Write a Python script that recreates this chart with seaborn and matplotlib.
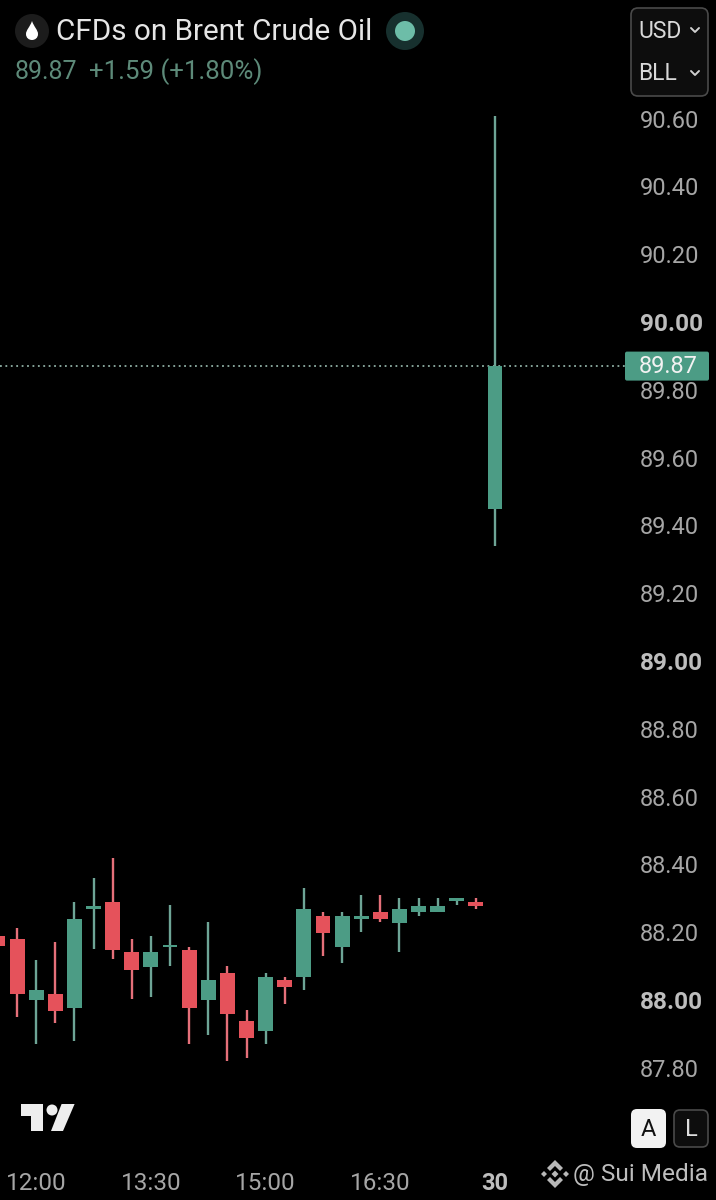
import numpy as np
import pandas as pd
import matplotlib
matplotlib.use('Agg')
import matplotlib.pyplot as plt
import seaborn as sns
from matplotlib.lines import Line2D
from matplotlib.patches import Circle, FancyBboxPatch, PathPatch, Polygon
from matplotlib.path import Path
from matplotlib.transforms import Affine2D

# 15 minute candles
opens = [88.19, 88.179, 87.999, 88.019, 87.977, 88.268, 88.288, 88.141, 88.098, 88.156,
         88.148, 87.999, 88.079, 87.938, 87.909, 88.059, 88.069, 88.248, 88.157, 88.238,
         88.259, 88.228, 88.259, 88.259, 88.292, 88.289, 89.448]
highs = [88.19, 88.212, 88.118, 88.170, 88.288, 88.359, 88.418, 88.179, 88.189, 88.280,
         88.157, 88.229, 88.100, 87.970, 88.080, 88.069, 88.329, 88.259, 88.259, 88.310,
         88.310, 88.300, 88.300, 88.300, 88.300, 88.300, 90.608]
lows = [88.16, 87.951, 87.870, 87.931, 87.879, 88.150, 88.120, 88.002, 88.010, 88.100,
        87.869, 87.898, 87.820, 87.829, 87.870, 87.988, 88.030, 88.130, 88.108, 88.200,
        88.229, 88.141, 88.249, 88.259, 88.280, 88.269, 89.339]
closes = [88.16, 88.018, 88.029, 87.967, 88.240, 88.278, 88.148, 88.088, 88.141, 88.161,
          87.977, 88.059, 87.959, 87.888, 88.069, 88.037, 88.268, 88.199, 88.248, 88.249,
          88.238, 88.268, 88.278, 88.278, 88.300, 88.278, 89.870]

price_ticks = [87.8, 88.0, 88.2, 88.4, 88.6, 88.8, 89.0, 89.2, 89.4, 89.6, 89.8, 90.0, 90.2, 90.4, 90.6]
time_tick_pos = [2, 8, 14, 20, 26]
time_tick_labels = ['12:00', '13:30', '15:00', '16:30', '30']
last_price = 89.87

GREEN = '#4c9c85'
RED = '#e5525b'
GREEN_WICK = '#6ea596'
RED_WICK = '#e5707a'
FONT = 'Roboto'

df = pd.DataFrame({'candle': np.arange(len(opens)), 'open': opens, 'high': highs, 'low': lows, 'close': closes})
df['dir'] = np.where(df['close'] >= df['open'], 'up', 'down')
df['bottom'] = df[['open', 'close']].min(axis=1)
df['size'] = (df['open'] - df['close']).abs()

wicks = df.melt(id_vars=['candle', 'dir'], value_vars=['high', 'low'], value_name='price')

sns.set_theme(style='dark', rc={'axes.facecolor': 'black', 'figure.facecolor': 'black', 'axes.grid': False})
plt.rcParams['font.family'] = [FONT, 'DejaVu Sans']

fig = plt.figure(figsize=(7.16, 12), dpi=100)
ax = fig.add_axes([0, 40 / 1200, 625 / 716, 1060 / 1200])

sns.lineplot(data=wicks, x='candle', y='price', units='candle', estimator=None, hue='dir',
             palette={'up': GREEN_WICK, 'down': RED_WICK}, linewidth=1.7, legend=False, ax=ax,
             solid_capstyle='butt', zorder=2)

for name, color in [('up', GREEN), ('down', RED)]:
    sub = df[df['dir'] == name]
    sns.barplot(x=sub['candle'].values, y=sub['size'].values, bottom=sub['bottom'].values, native_scale=True,
                color=color, saturation=1, width=0.78, errorbar=None, linewidth=0, ax=ax, zorder=3)

ax.axhline(last_price, color='#8fb0a5', linewidth=1.3, linestyle=(0, (1, 2)), zorder=1)

ax.set_xlim(0.105, 32.8)
ax.set_ylim(87.528, 90.655)
ax.set_xlabel('')
ax.set_ylabel('')
ax.yaxis.tick_right()
ax.set_yticks(price_ticks)
ax.set_yticklabels(['%.2f' % p for p in price_ticks])
ax.set_xticks(time_tick_pos)
ax.set_xticklabels(time_tick_labels)
ax.tick_params(axis='y', length=0, pad=10.8, labelsize=17, labelcolor='#a6a6a6')
ax.tick_params(axis='x', length=0, pad=9, labelsize=17.5, labelcolor='#a6a6a6')
for lab, p in zip(ax.get_yticklabels(), price_ticks):
    if abs(p - round(p)) < 1e-6:
        lab.set_fontweight('bold')
        lab.set_color('#bdbdbd')
        lab.set_fontsize(17.6)
ax.get_xticklabels()[-1].set_fontweight('bold')
ax.get_xticklabels()[-1].set_color('#bdbdbd')
ax.get_xticklabels()[-1].set_fontsize(17)
sns.despine(ax=ax, left=True, right=True, top=True, bottom=True)

# everything around the chart placed in image pixels, y going down
px = Affine2D().scale(1, -1).translate(0, 1200)


def label(x, y, s, size, color, ha='left', weight='normal'):
    fig.text(x, y, s, transform=px, fontsize=size, color=color, ha=ha, va='center', fontweight=weight, zorder=6)


def box(x0, y0, x1, y1, r, face, edge='none', lw=0):
    fig.add_artist(FancyBboxPatch((x0, y0), x1 - x0, y1 - y0, boxstyle='round,pad=0,rounding_size=%g' % r,
                                  transform=px, facecolor=face, edgecolor=edge, linewidth=lw, zorder=5))


def disc(x, y, r, face, z=5):
    fig.add_artist(Circle((x, y), r, transform=px, facecolor=face, edgecolor='none', linewidth=0, zorder=z))


def poly(pts, face):
    fig.add_artist(Polygon(pts, closed=True, transform=px, facecolor=face, edgecolor='none', linewidth=0, zorder=6))


def chevron(x, y):
    fig.add_artist(Line2D([x - 4, x, x + 4], [y - 2, y + 2, y - 2], transform=px, color='#d0d0d0', linewidth=1.4, zorder=6))


# price tag on the axis
tag_y = 1200 - ax.transData.transform((0, last_price))[1]
box(625, tag_y - 14.5, 709, tag_y + 14.5, 2, GREEN)
label(698, tag_y + 0.5, '%.2f' % last_price, 17, '#f2f2f2', ha='right')

# header
disc(32, 31, 17, '#1c1c1c')
drop = Path([(32, 21), (34, 27), (38, 30), (38, 34), (38, 38), (35, 40), (32, 40), (29, 40), (26, 38), (26, 34),
             (26, 30), (30, 27), (32, 21)],
            [Path.MOVETO] + [Path.CURVE4] * 12)
fig.add_artist(PathPatch(drop, transform=px, facecolor='white', edgecolor='none', linewidth=0, zorder=6))
label(56, 32.5, 'CFDs on Brent Crude Oil', 21.3, '#e6e6e6')
disc(405, 31, 19, '#17302e')
disc(405, 31, 10, '#6dbda8', 6)
label(15, 72, '89.87', 18, '#5d8a79')
label(89, 72, '+1.59 (+1.80%)', 18.6, '#5d8a79')

# currency and unit box
box(631, 8, 708, 96, 7, '#0d0d0d', '#4a4a4a', 1.2)
label(638, 31, 'USD', 16.5, '#d8d8d8')
label(638, 74, 'BLL', 16.5, '#d8d8d8')
chevron(695, 30)
chevron(695, 73)

# tradingview logo
poly([(20.5, 1104), (43, 1104), (43, 1131), (31, 1131), (31, 1116), (20.5, 1116)], '#eeeeee')
poly([(61.6, 1104), (74.6, 1104), (63, 1131), (51, 1131)], '#eeeeee')
disc(52, 1110, 5.5, '#eeeeee', 6)

# auto / log buttons
box(631, 1109, 666, 1148, 6, '#f2f2f2')
label(648.5, 1130, 'A', 17, '#111111', ha='center')
box(674, 1110, 708, 1147, 6, '#0d0d0d', '#4a4a4a', 1.2)
label(691, 1130, 'L', 17, '#dddddd', ha='center')

# watermark
poly([(555, 1160), (563, 1168), (560, 1171), (555, 1166), (550, 1171), (547, 1168)], '#b8b8b8')
poly([(555, 1188), (563, 1180), (560, 1177), (555, 1182), (550, 1177), (547, 1180)], '#b8b8b8')
for cx, s in [(544, 3), (555, 3.5), (566, 3)]:
    poly([(cx, 1174 - s), (cx + s, 1174), (cx, 1174 + s), (cx - s, 1174)], '#b8b8b8')
label(573, 1175, '@ Sui Media', 17.6, '#bdbdbd')

fig.savefig('out.png', dpi=100, facecolor='black')
